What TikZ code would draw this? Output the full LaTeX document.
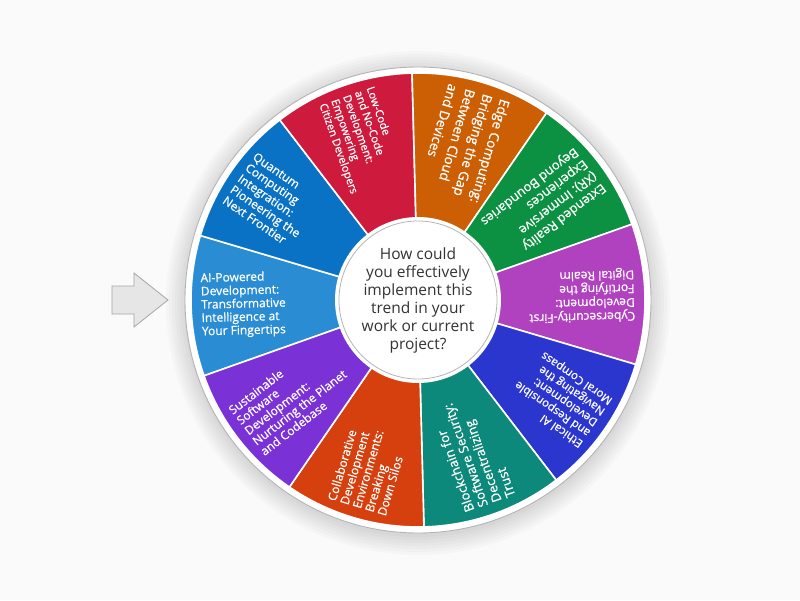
\documentclass[tikz,border=0pt]{standalone}
\usepackage{fontspec}
\setmainfont{Open Sans}
\newfontfamily\segfont{Open Sans}[FakeBold=0.7]
\definecolor{bgcol}{HTML}{FAFAFA}
\definecolor{rimcol}{HTML}{B4B4B4}
\definecolor{huball}{HTML}{333333}
\definecolor{ptrfill}{HTML}{E6E6E6}
\definecolor{ptrline}{HTML}{A6A6A6}
\definecolor{cAI}{HTML}{2A8DD4}
\definecolor{cQuantum}{HTML}{0A72C4}
\definecolor{cLowCode}{HTML}{CE1A3C}
\definecolor{cEdge}{HTML}{CC5E04}
\definecolor{cXR}{HTML}{0B9141}
\definecolor{cCyber}{HTML}{B041BF}
\definecolor{cEthical}{HTML}{2B36CF}
\definecolor{cChain}{HTML}{0C897A}
\definecolor{cCollab}{HTML}{D6400E}
\definecolor{cGreen}{HTML}{7A31D6}
\tikzset{
  segtext/.style={text=white, align=left, anchor=west, inner sep=0pt},
  hub/.style={circle, fill=white, minimum size=166pt, inner sep=0pt,
    align=center, text=huball, font=\fontsize{15.5}{18}\selectfont},
  pointer/.style={fill=ptrfill, draw=ptrline, line width=0.8pt, line join=miter}
}
\begin{document}
\begin{tikzpicture}[x=1pt,y=1pt]
  \useasboundingbox[fill=bgcol] (-418,-300) rectangle (382,300);
  \coordinate (O) at (0,0);
  % soft shadow
  \foreach \r in {234,237,...,252}
    \fill[black,opacity=0.018] (0,-3) circle[radius=\r];
  % rim
  \draw[rimcol, fill=white, line width=0.9pt] (O) circle[radius=233];
  % segments: colour / font size / line skip / text
  \foreach \col/\fs/\ls/\txt [count=\i from 0] in {
      cAI/12/13.3/{AI-Powered\\Development:\\Transformative\\Intelligence at\\Your Fingertips},
      cQuantum/12/13.3/{Quantum\\Computing\\Integration:\\Pioneering the\\Next Frontier},
      cLowCode/11/12.5/{Low-Code\\and No-Code\\Development:\\Empowering\\Citizen Developers},
      cEdge/13.5/18/{Edge Computing:\\Bridging the Gap\\Between Cloud\\and Devices},
      cXR/13/15/{Extended Reality\\(XR): Immersive\\Experiences\\Beyond Boundaries},
      cCyber/12.2/13.8/{Cybersecurity-First\\Development:\\Fortifying the\\Digital Realm},
      cEthical/11.5/13/{Ethical AI\\and Responsible\\Development:\\Navigating the\\Moral Compass},
      cChain/13/14.5/{Blockchain for\\Software Security:\\Decentralizing\\Trust},
      cCollab/12/13/{Collaborative\\Development\\Environments:\\Breaking\\Down Silos},
      cGreen/12/13/{Sustainable\\Software\\Development:\\Nurturing the Planet\\and Codebase}}
  {
    \pgfmathsetmacro{\a}{181.5-36*\i}
    \filldraw[fill=\col, draw=white, line width=1.6pt, line join=round]
      (O) -- (\a-18:227) arc[start angle=\a-18, end angle=\a+18, radius=227] -- cycle;
    \node[segtext, rotate=\a+180, font=\segfont\fontsize{\fs}{\ls}\selectfont]
      (lbl\i) at (\a:217) {\txt};
  }
  % centre
  \node[hub] (hub) at (O) {How could\\you effectively\\implement this\\trend in your\\work or current\\project?};
  \draw[rimcol, line width=0.8pt] (hub.center) circle[radius=79];
  % pointer
  \draw[pointer] (-306,14) -- (-284,14) -- (-284,27) -- (-250,0) -- (-284,-27)
    -- (-284,-14) -- (-306,-14) -- cycle;
\end{tikzpicture}
\end{document}
